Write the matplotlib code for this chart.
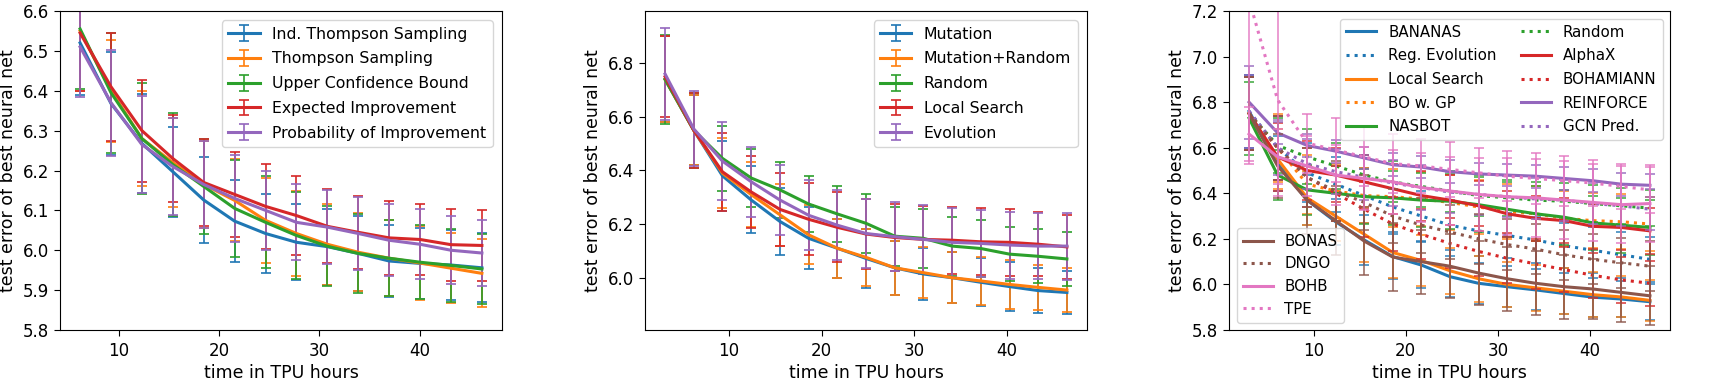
import matplotlib
matplotlib.use("Agg")
import matplotlib.pyplot as plt

# ---------------- Panel 1 data ----------------
t1 = [6.16, 9.24, 12.32, 15.40, 18.48, 21.56, 24.64, 27.72, 30.80, 33.88, 36.96, 40.04, 43.12, 46.20]
p1_names = ["Ind. Thompson Sampling", "Thompson Sampling", "Upper Confidence Bound",
            "Expected Improvement", "Probability of Improvement"]
p1_ind_ts = [6.52, 6.368, 6.268, 6.197, 6.126, 6.073, 6.042, 6.02, 6.009, 5.992, 5.973, 5.967, 5.963, 5.956]
p1_ts = [6.55, 6.40, 6.28, 6.22, 6.165, 6.125, 6.075, 6.042, 6.015, 5.995, 5.98, 5.968, 5.955, 5.942]
p1_ucb = [6.555, 6.395, 6.28, 6.215, 6.16, 6.105, 6.07, 6.037, 6.01, 5.992, 5.98, 5.97, 5.962, 5.953]
p1_ei = [6.545, 6.41, 6.30, 6.23, 6.17, 6.14, 6.11, 6.087, 6.06, 6.045, 6.031, 6.027, 6.014, 6.012]
p1_pi = [6.51, 6.37, 6.265, 6.21, 6.165, 6.13, 6.10, 6.07, 6.058, 6.042, 6.025, 6.015, 6.0, 5.993]
p1_ind_ts_err = [0.13, 0.13, 0.125, 0.113, 0.108, 0.103, 0.098, 0.095, 0.095, 0.093, 0.09, 0.09, 0.087, 0.087]
p1_ts_err = [0.15, 0.128, 0.12, 0.112, 0.108, 0.103, 0.107, 0.107, 0.102, 0.098, 0.095, 0.093, 0.088, 0.085]
p1_ucb_err = [0.15, 0.15, 0.14, 0.13, 0.12, 0.122, 0.115, 0.108, 0.10, 0.098, 0.095, 0.093, 0.092, 0.088]
p1_ei_err = [0.145, 0.135, 0.128, 0.11, 0.108, 0.107, 0.107, 0.1, 0.093, 0.092, 0.092, 0.09, 0.09, 0.09]
p1_pi_err = [0.125, 0.133, 0.122, 0.122, 0.108, 0.11, 0.1, 0.095, 0.093, 0.092, 0.09, 0.088, 0.085, 0.083]

# ---------------- Panel 2 data ----------------
t2 = [3.1, 6.2, 9.3, 12.4, 15.5, 18.6, 21.7, 24.8, 27.9, 31.0, 34.1, 37.2, 40.3, 43.4, 46.5]
p2_names = ["Mutation", "Mutation+Random", "Random", "Local Search", "Evolution"]
p2_mut = [6.74, 6.55, 6.38, 6.29, 6.21, 6.147, 6.11, 6.072, 6.037, 6.014, 6.0, 5.983, 5.967, 5.952, 5.945]
p2_mutr = [6.74, 6.55, 6.39, 6.31, 6.235, 6.16, 6.11, 6.076, 6.037, 6.019, 6.0, 5.988, 5.975, 5.964, 5.954]
p2_rand = [6.74, 6.55, 6.445, 6.372, 6.328, 6.275, 6.238, 6.203, 6.155, 6.147, 6.118, 6.109, 6.088, 6.08, 6.07]
p2_ls = [6.75, 6.55, 6.395, 6.32, 6.255, 6.218, 6.188, 6.163, 6.15, 6.143, 6.14, 6.134, 6.132, 6.125, 6.115]
p2_evo = [6.76, 6.555, 6.435, 6.358, 6.29, 6.233, 6.196, 6.165, 6.153, 6.143, 6.132, 6.128, 6.122, 6.118, 6.118]
p2_mut_err = [0.16, 0.13, 0.13, 0.125, 0.125, 0.115, 0.11, 0.11, 0.10, 0.097, 0.095, 0.09, 0.09, 0.085, 0.08]
p2_mutr_err = [0.16, 0.13, 0.13, 0.12, 0.115, 0.11, 0.11, 0.105, 0.10, 0.095, 0.095, 0.09, 0.09, 0.085, 0.082]
p2_rand_err = [0.165, 0.14, 0.12, 0.11, 0.105, 0.105, 0.105, 0.11, 0.11, 0.11, 0.11, 0.105, 0.102, 0.10, 0.10]
p2_ls_err = [0.15, 0.14, 0.145, 0.135, 0.135, 0.135, 0.13, 0.13, 0.125, 0.125, 0.125, 0.125, 0.125, 0.12, 0.12]
p2_evo_err = [0.17, 0.14, 0.145, 0.13, 0.13, 0.13, 0.13, 0.13, 0.128, 0.128, 0.128, 0.125, 0.125, 0.122, 0.125]

# ---------------- Panel 3 data ----------------
t3 = [3.0, 6.1, 9.3, 12.4, 15.5, 18.6, 21.7, 24.8, 27.9, 31.0, 34.1, 37.2, 40.3, 43.4, 46.5]
p3_bananas = [6.76, 6.53, 6.37, 6.275, 6.195, 6.122, 6.085, 6.034, 6.005, 5.99, 5.976, 5.96, 5.944, 5.936, 5.924]
p3_regevo = [6.76, 6.60, 6.49, 6.44, 6.39, 6.34, 6.30, 6.26, 6.235, 6.215, 6.195, 6.17, 6.15, 6.13, 6.11]
p3_ls = [6.75, 6.55, 6.38, 6.30, 6.22, 6.14, 6.105, 6.06, 6.025, 6.0, 5.985, 5.97, 5.955, 5.945, 5.93]
p3_bogp = [6.75, 6.60, 6.44, 6.41, 6.39, 6.385, 6.375, 6.36, 6.34, 6.32, 6.31, 6.29, 6.28, 6.275, 6.265]
p3_nasbot = [6.73, 6.48, 6.415, 6.40, 6.385, 6.38, 6.37, 6.365, 6.35, 6.33, 6.31, 6.295, 6.27, 6.26, 6.25]
p3_random = [6.75, 6.61, 6.56, 6.52, 6.48, 6.45, 6.43, 6.41, 6.39, 6.38, 6.37, 6.365, 6.355, 6.345, 6.335]
p3_alphax = [6.75, 6.56, 6.50, 6.48, 6.45, 6.42, 6.39, 6.37, 6.345, 6.31, 6.29, 6.28, 6.255, 6.25, 6.235]
p3_bohamiann = [6.75, 6.60, 6.47, 6.40, 6.33, 6.265, 6.22, 6.18, 6.145, 6.115, 6.09, 6.065, 6.04, 6.02, 6.005]
p3_reinforce = [6.80, 6.665, 6.61, 6.585, 6.555, 6.525, 6.515, 6.495, 6.485, 6.48, 6.475, 6.465, 6.455, 6.44, 6.435]
p3_gcn = [6.76, 6.60, 6.53, 6.495, 6.47, 6.445, 6.425, 6.405, 6.395, 6.385, 6.375, 6.37, 6.355, 6.345, 6.33]
p3_bonas = [6.75, 6.52, 6.37, 6.28, 6.19, 6.12, 6.10, 6.08, 6.05, 6.025, 6.005, 5.99, 5.98, 5.965, 5.95]
p3_dngo = [6.75, 6.60, 6.47, 6.41, 6.36, 6.30, 6.26, 6.23, 6.20, 6.175, 6.155, 6.13, 6.11, 6.095, 6.08]
p3_bohb = [6.66, 6.56, 6.52, 6.48, 6.465, 6.45, 6.425, 6.41, 6.395, 6.385, 6.38, 6.37, 6.36, 6.35, 6.355]
p3_tpe = [7.25, 6.81, 6.62, 6.59, 6.56, 6.53, 6.52, 6.505, 6.49, 6.475, 6.465, 6.455, 6.445, 6.43, 6.415]

p3_bananas_err = [0.16, 0.12, 0.11, 0.10, 0.11, 0.10, 0.10, 0.09, 0.09, 0.09, 0.09, 0.09, 0.085, 0.08, 0.08]
p3_regevo_err = [0.16, 0.14, 0.13, 0.12, 0.12, 0.11, 0.11, 0.11, 0.11, 0.10, 0.10, 0.10, 0.10, 0.10, 0.10]
p3_ls_err = [0.16, 0.13, 0.12, 0.11, 0.12, 0.11, 0.11, 0.10, 0.10, 0.10, 0.10, 0.10, 0.10, 0.09, 0.09]
p3_bogp_err = [0.16, 0.15, 0.13, 0.12, 0.12, 0.12, 0.12, 0.12, 0.12, 0.12, 0.12, 0.12, 0.12, 0.12, 0.12]
p3_nasbot_err = [0.16, 0.11, 0.11, 0.12, 0.12, 0.12, 0.12, 0.12, 0.12, 0.12, 0.12, 0.12, 0.12, 0.12, 0.12]
p3_random_err = [0.16, 0.12, 0.12, 0.10, 0.09, 0.09, 0.09, 0.09, 0.09, 0.08, 0.08, 0.08, 0.08, 0.08, 0.08]
p3_alphax_err = [0.16, 0.15, 0.13, 0.12, 0.12, 0.11, 0.11, 0.11, 0.11, 0.10, 0.10, 0.10, 0.10, 0.10, 0.10]
p3_bohamiann_err = [0.16, 0.14, 0.13, 0.12, 0.12, 0.12, 0.11, 0.11, 0.11, 0.11, 0.11, 0.10, 0.10, 0.10, 0.10]
p3_reinforce_err = [0.16, 0.05, 0.05, 0.05, 0.05, 0.05, 0.05, 0.05, 0.05, 0.05, 0.05, 0.05, 0.05, 0.05, 0.05]
p3_gcn_err = [0.16, 0.12, 0.11, 0.10, 0.10, 0.10, 0.10, 0.09, 0.09, 0.09, 0.09, 0.09, 0.09, 0.09, 0.09]
p3_bonas_err = [0.16, 0.14, 0.15, 0.15, 0.15, 0.15, 0.14, 0.14, 0.14, 0.14, 0.14, 0.14, 0.13, 0.13, 0.13]
p3_dngo_err = [0.16, 0.14, 0.13, 0.13, 0.12, 0.12, 0.12, 0.12, 0.11, 0.11, 0.11, 0.11, 0.11, 0.11, 0.11]
p3_bohb_err = [0.12, 0.12, 0.13, 0.13, 0.14, 0.14, 0.15, 0.15, 0.16, 0.17, 0.17, 0.17, 0.17, 0.17, 0.17]
p3_tpe_err = [0.72, 0.42, 0.13, 0.14, 0.13, 0.13, 0.12, 0.12, 0.11, 0.11, 0.11, 0.11, 0.10, 0.10, 0.10]

plt.rcParams['font.family'] = ['DejaVu Sans']
plt.rcParams['font.size'] = 12
plt.rcParams['xtick.major.size'] = 4.5
plt.rcParams['ytick.major.size'] = 4.5
plt.rcParams['xtick.major.pad'] = 4.5

fig = plt.figure(figsize=(17.32, 3.8), dpi=100)
ax1 = fig.add_axes([60/1732, 50/380, 442/1732, 319/380])
ax2 = fig.add_axes([645/1732, 50/380, 442/1732, 319/380])
ax3 = fig.add_axes([1229/1732, 50/380, 441/1732, 319/380])

C = ['#1f77b4', '#ff7f0e', '#2ca02c', '#d62728', '#9467bd', '#8c564b', '#e377c2']
eb_kw = dict(capsize=3.5, elinewidth=1.2, capthick=1.2, lw=2.2)
lab_kw = dict(fontsize=12.5)

# Panel 1
p1_series = [(p1_ind_ts, p1_ind_ts_err), (p1_ts, p1_ts_err), (p1_ucb, p1_ucb_err),
             (p1_ei, p1_ei_err), (p1_pi, p1_pi_err)]
for i, ((y, e), name) in enumerate(zip(p1_series, p1_names)):
    ax1.errorbar(t1, y, yerr=e, color=C[i], label=name, **eb_kw)
ax1.set_ylim(5.8, 6.6)
ax1.set_xticks([10, 20, 30, 40])
ax1.set_ylabel("test error of best neural net", **lab_kw)
ax1.set_xlabel("time in TPU hours", labelpad=2.5, **lab_kw)
ax1.legend(loc='upper right', fontsize=11.3, labelspacing=0.62, borderaxespad=0.6)

# Panel 2
p2_series = [(p2_mut, p2_mut_err), (p2_mutr, p2_mutr_err), (p2_rand, p2_rand_err),
             (p2_ls, p2_ls_err), (p2_evo, p2_evo_err)]
for i, ((y, e), name) in enumerate(zip(p2_series, p2_names)):
    ax2.errorbar(t2, y, yerr=e, color=C[i], label=name, **eb_kw)
ax2.set_ylim(5.805, 6.995)
ax2.set_yticks([6.0, 6.2, 6.4, 6.6, 6.8])
ax2.set_xticks([10, 20, 30, 40])
ax2.set_ylabel("test error of best neural net", **lab_kw)
ax2.set_xlabel("time in TPU hours", labelpad=2.5, **lab_kw)
ax2.legend(loc='upper right', fontsize=11.3, labelspacing=0.62, borderaxespad=0.6)

# Panel 3
p3_main = [
    ("BANANAS", p3_bananas, p3_bananas_err, C[0], '-'),
    ("Reg. Evolution", p3_regevo, p3_regevo_err, C[0], ':'),
    ("Local Search", p3_ls, p3_ls_err, C[1], '-'),
    ("BO w. GP", p3_bogp, p3_bogp_err, C[1], ':'),
    ("NASBOT", p3_nasbot, p3_nasbot_err, C[2], '-'),
    ("Random", p3_random, p3_random_err, C[2], ':'),
    ("AlphaX", p3_alphax, p3_alphax_err, C[3], '-'),
    ("BOHAMIANN", p3_bohamiann, p3_bohamiann_err, C[3], ':'),
    ("REINFORCE", p3_reinforce, p3_reinforce_err, C[4], '-'),
    ("GCN Pred.", p3_gcn, p3_gcn_err, C[4], ':'),
]
p3_extra = [
    ("BONAS", p3_bonas, p3_bonas_err, C[5], '-'),
    ("DNGO", p3_dngo, p3_dngo_err, C[5], ':'),
    ("BOHB", p3_bohb, p3_bohb_err, C[6], '-'),
    ("TPE", p3_tpe, p3_tpe_err, C[6], ':'),
]
h_main, h_extra = [], []
for group, store in ((p3_main, h_main), (p3_extra, h_extra)):
    for name, y, e, c, ls in group:
        ax3.errorbar(t3, y, yerr=e, fmt='none', ecolor=c, capsize=3.5,
                     elinewidth=1.2, capthick=1.2, alpha=0.85)
        ln, = ax3.plot(t3, y, color=c, ls=ls, lw=2.2, label=name)
        store.append(ln)
ax3.set_ylim(5.8, 7.2)
ax3.set_xticks([10, 20, 30, 40])
ax3.set_ylabel("test error of best neural net", **lab_kw)
ax3.set_xlabel("time in TPU hours", labelpad=2.5, **lab_kw)
leg1 = ax3.legend(handles=h_main, loc='upper right', ncol=2, fontsize=10.8,
                  labelspacing=0.58, columnspacing=1.6, borderaxespad=0.5)
ax3.add_artist(leg1)
ax3.legend(handles=h_extra, loc='lower left', fontsize=10.8, labelspacing=0.5,
           borderaxespad=0.5)

fig.savefig("out.png", dpi=100)
